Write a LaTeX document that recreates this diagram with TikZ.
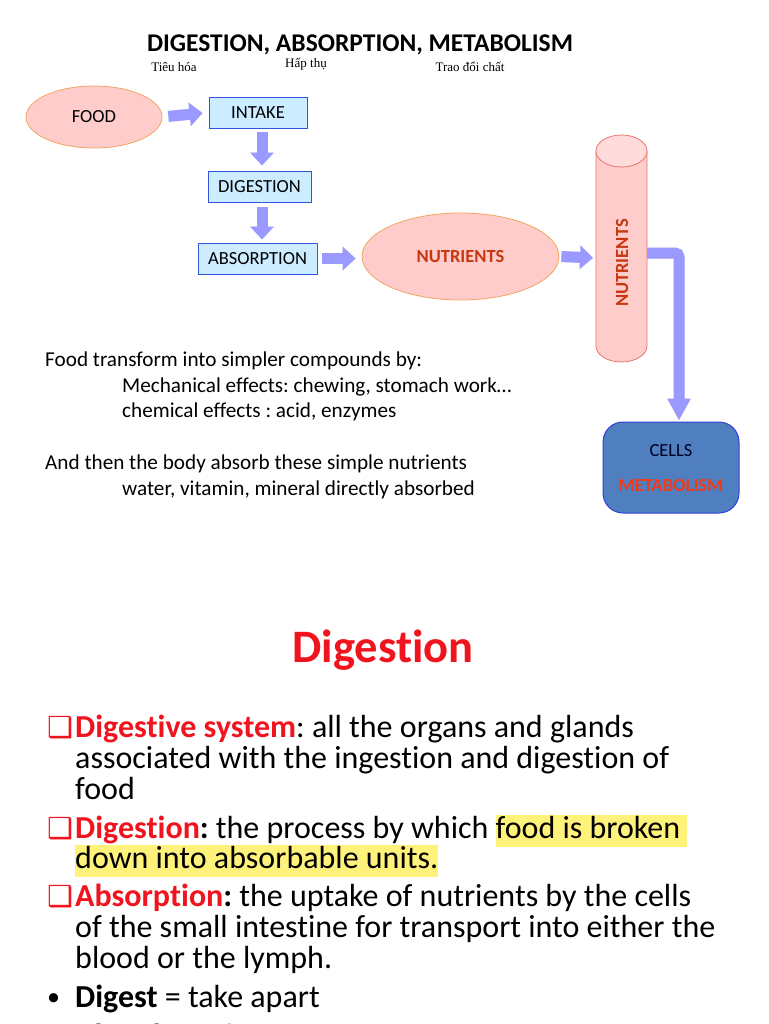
\documentclass[tikz,border=0pt]{standalone}
\usepackage{fontspec}
\setmainfont{Carlito}[Ligatures={NoCommon}]
\newfontfamily\vietfont{Liberation Serif}
\newfontfamily\symbfont{DejaVu Sans}
\usetikzlibrary{arrows.meta,shapes.geometric}
\definecolor{arrowc}{HTML}{9999FF}
\definecolor{pinkfill}{HTML}{FFCCCC}
\definecolor{pinkdraw}{HTML}{F4A460}
\definecolor{cyldraw}{HTML}{E8756A}
\definecolor{boxfill}{HTML}{CCECFF}
\definecolor{boxdraw}{HTML}{3355DD}
\definecolor{cellfill}{HTML}{4F7FBF}
\definecolor{celldraw}{HTML}{2F3FD8}
\definecolor{nutc}{HTML}{C8380F}
\definecolor{metc}{HTML}{F03A1A}
\definecolor{redc}{HTML}{F0141E}
\definecolor{hly}{HTML}{FFF27A}
\newcommand\hlt[1]{{\setlength{\fboxsep}{0pt}\colorbox{hly}{\rule[-9pt]{0pt}{32pt}#1}}}
\newcommand\qbul{{\color{redc}\symbfont\fontsize{29}{31}\selectfont ❑}}
\frenchspacing
\begin{document}
\begin{tikzpicture}[x=1pt,y=-1pt,
  pinkell/.style={ellipse, draw=pinkdraw, line width=0.8pt, fill=pinkfill, inner sep=0pt},
  bluebox/.style={rectangle, draw=boxdraw, line width=0.9pt, fill=boxfill, inner sep=0pt, font=\fontsize{18.5}{21}\selectfont},
  blockarrow/.style={draw=arrowc, line width=11pt, -{Triangle[length=13pt,width=23pt]}},
  shadowarrow/.style={draw=black!8, line width=11pt, -{Triangle[length=13pt,width=23pt]}},
  viet/.style={anchor=base, inner sep=0pt, font=\vietfont\fontsize{13}{15}\selectfont},
  txt/.style={anchor=base west, inner sep=0pt, font=\fontsize{21.2}{24}\selectfont},
  body/.style={anchor=base west, inner sep=0pt, font=\fontsize{32}{31}\selectfont},
]
\useasboundingbox (0,0) rectangle (768,1024);
\fill[white] (0,0) rectangle (768,1024);

% title
\node[anchor=base, inner sep=0pt, font=\bfseries\fontsize{25.5}{28}\selectfont] (title) at (360,52) {DIGESTION, ABSORPTION, METABOLISM};
\node[viet] (t1) at (174,72) {Tiêu hóa};
\node[viet] (t2) at (306,67.5) {Hấp thụ};
\node[viet] (t3) at (470,72) {Trao đổi chất};

% nodes
\node[pinkell, minimum width=136pt, minimum height=62pt, font=\fontsize{18.5}{21}\selectfont] (food) at (94,117) {FOOD};
\node[bluebox, minimum width=98pt, minimum height=31pt] (intake) at (258,112.5) {INTAKE};
\node[bluebox, minimum width=103pt, minimum height=31pt] (digestion) at (259.5,186.5) {DIGESTION};
\node[bluebox, minimum width=119pt, minimum height=31pt] (absorption) at (257.5,258.5) {ABSORPTION};
\node[pinkell, minimum width=197pt, minimum height=87pt, text=nutc, font=\bfseries\fontsize{18.5}{21}\selectfont] (nutrients) at (460.5,256.5) {NUTRIENTS};

% cylinder
\fill[pinkfill] (596,151) -- (596,346) .. controls (596,354.8) and (607.4,362) .. (621.5,362) .. controls (635.6,362) and (647,354.8) .. (647,346) -- (647,151) -- cycle;
\draw[cyldraw, line width=0.8pt] (596,151) -- (596,346) .. controls (596,354.8) and (607.4,362) .. (621.5,362) .. controls (635.6,362) and (647,354.8) .. (647,346) -- (647,151);
\draw[cyldraw, line width=0.8pt, fill=pinkfill!70!white] (621.5,151) ellipse (25.5 and 16);
\node[rotate=90, inner sep=0pt, text=nutc, font=\bfseries\fontsize{18.5}{21}\selectfont] (cyl) at (622,263) {NUTRIENTS};
\coordinate (cylL) at (596,258);
\coordinate (cylR) at (647,253);
\coordinate (bend) at (679,253);

% cells
\node[rectangle, rounded corners=20pt, draw=celldraw, line width=1pt, fill=cellfill, minimum width=136pt, minimum height=91pt] (cells) at (671,467.5) {};
\node[inner sep=0pt, font=\fontsize{18.5}{21}\selectfont, text=black!85!blue] (cellst) at (671,451) {CELLS};
\node[inner sep=0pt, font=\bfseries\fontsize{18.5}{21}\selectfont, text=metc] (metab) at (671,485) {METABOLISM};

% arrows (shadows)
\begin{scope}[shift={(2.5,-2.5)}]
\draw[shadowarrow, shorten <=6pt, shorten >=6pt] (food.east) -- (intake.west);
\draw[shadowarrow, shorten <=4pt, shorten >=5pt] ([xshift=4pt]intake.south) -- ([xshift=4pt]intake.south |- digestion.north);
\draw[shadowarrow, shorten <=5pt, shorten >=3pt] ([xshift=2.5pt]digestion.south) -- ([xshift=2.5pt]digestion.south |- absorption.north);
\draw[shadowarrow, shorten <=5pt, shorten >=6pt] (absorption.east) -- (absorption.east -| nutrients.west);
\draw[shadowarrow, shorten <=2pt, shorten >=3pt] (nutrients.east) -- (cylL);
\draw[draw=black!8, line width=11pt, rounded corners=4pt, -{Triangle[length=22pt,width=22pt]}, shorten >=1pt] (cylR) -- (bend) -- (bend |- cells.north);
\end{scope}
\draw[blockarrow, shorten <=6pt, shorten >=6pt] (food.east) -- (intake.west);
\draw[blockarrow, shorten <=4pt, shorten >=5pt] ([xshift=4pt]intake.south) -- ([xshift=4pt]intake.south |- digestion.north);
\draw[blockarrow, shorten <=5pt, shorten >=3pt] ([xshift=2.5pt]digestion.south) -- ([xshift=2.5pt]digestion.south |- absorption.north);
\draw[blockarrow, shorten <=5pt, shorten >=6pt] (absorption.east) -- (absorption.east -| nutrients.west);
\draw[blockarrow, shorten <=2pt, shorten >=3pt] (nutrients.east) -- (cylL);
\draw[draw=arrowc, line width=11pt, rounded corners=4pt, -{Triangle[length=22pt,width=22pt]}, shorten >=1pt] (cylR) -- (bend) -- (bend |- cells.north);

% explanatory text
\node[txt] (l1) at (45,366) {Food transform into simpler compounds by:};
\node[txt] (l2) at (122,392) {Mechanical effects: chewing, stomach work…};
\node[txt] (l3) at (122,417) {chemical effects : acid, enzymes};
\node[txt] (l4) at (45,469) {And then the body absorb these simple nutrients};
\node[txt] (l5) at (122,495) {water, vitamin, mineral directly absorbed};

% Digestion heading
\node[anchor=base, inner sep=0pt, text=redc, font=\bfseries\fontsize{46.5}{50}\selectfont] (head) at (383,662) {Digestion};

% body
\node[anchor=base west, inner sep=0pt] (b1) at (47,737) {\qbul};
\node[body] (p1) at (75,737) {{\color{redc}\bfseries Digestive system}: all the organs and glands};
\node[body] (p2) at (75,768) {associated with the ingestion and digestion of};
\node[body] (p3) at (75,799) {food};
\node[anchor=base west, inner sep=0pt] (b2) at (47,838) {\qbul};
\node[body] (p4) at (75,838) {{\color{redc}\bfseries Digestion}\textbf{:} the process by which \hlt{food is broken }};
\node[body] (p5) at (75,868) {\hlt{down into absorbable units.}};
\node[anchor=base west, inner sep=0pt] (b3) at (47,906) {\qbul};
\node[body] (p6) at (75,906) {{\color{redc}\bfseries Absorption}\textbf{:} the uptake of nutrients by the cells};
\node[body] (p7) at (75,937) {of the small intestine for transport into either the};
\node[body] (p8) at (75,968) {blood or the lymph.};
\node[anchor=base west, inner sep=0pt, font=\fontsize{26}{28}\selectfont] (b4) at (47,1005) {•};
\node[body] (p9) at (75,1007) {\textbf{Digest} = take apart};
\begin{scope}
\clip (0,0) rectangle (768,1024);
\node[anchor=base west, inner sep=0pt, font=\fontsize{26}{28}\selectfont] (b5) at (47,1044) {•};
\node[body] (p10) at (75,1046) {\textbf{Absorb} = take in};
\end{scope}
\end{tikzpicture}
\end{document}
